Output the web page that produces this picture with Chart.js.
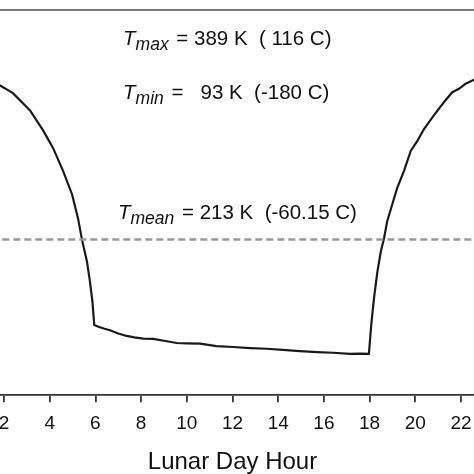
<!DOCTYPE html>
<html lang="en">
<head>
    <meta charset="UTF-8">
    <title>Lunar Surface Temperature</title>
    <script src="https://cdn.jsdelivr.net/npm/chart.js"></script>
    <style>
        html, body {
            margin: 0;
            padding: 0;
            background: #ffffff;
            overflow: hidden;
            width: 474px;
            height: 474px;
        }
        /* the plot is wider than the window, like a cropped figure */
        #chart-box {
            position: absolute;
            left: -60px;
            top: 0;
            width: 600px;
            height: 474px;
        }
    </style>
</head>
<body>
    <div id="chart-box">
        <canvas id="tempChart" width="600" height="474"></canvas>
    </div>

    <script>
        // surface temperature over one lunar day (hour, Kelvin)
        var hours = [0, 0.5, 1.0, 1.4, 1.83, 2.39, 3.14, 3.71, 4.14, 4.58, 4.98, 5.24, 5.41, 5.63, 5.76, 5.87, 5.95,
                     6.13, 6.4, 6.64, 7.0, 7.37, 7.7, 8.1, 8.53, 9.0, 9.56, 10.0, 10.58, 11.3, 12.02, 12.77, 13.5,
                     14.2, 14.95, 15.7, 16.4, 17.14, 17.6, 17.97,
                     18.07, 18.19, 18.34, 18.49, 18.63, 18.77, 18.99, 19.21, 19.51, 19.8, 20.09, 20.38, 20.82,
                     21.25, 21.62, 21.91, 22.2, 22.57, 23.0, 23.5, 24];
        var kelvin = [389, 388, 384, 380, 374, 366, 348, 327, 309, 285, 260, 235, 213, 190, 169, 148, 123.5,
                      121.6, 119.5, 118, 114.5, 112, 110.5, 109.1, 109, 107, 104.6, 104.3, 103.9, 101.4, 100.4, 99.3, 98.6,
                      97.5, 96.2, 95.1, 94.4, 93.3, 93.6, 93.3,
                      123, 151, 179, 200, 214, 232, 249.5, 267, 285, 305.6, 316, 328.5, 343,
                      356.5, 367, 370.6, 375.8, 380, 384, 387, 389];

        // mean temperature line
        var meanHours = [0, 24];
        var meanKelvin = [213, 213];

        // annotation texts
        var annSymbol = ['T', 'T', 'T'];
        var annSub = ['max', 'min', 'mean'];
        var annText = [' = 389 K  ( 116 C)', ' =   93 K  (-180 C)', ' = 213 K  (-60.15 C)'];
        var annHour = [7.21, 7.21, 6.99];
        var annKelvin = [416.7, 360.4, 234.1];

        var xTitle = 'Lunar Day Hour';

        function toPoints(xs, ys) {
            return xs.map(function(x, i) { return { x: x, y: ys[i] }; });
        }

        // top frame line and the T labels
        var extras = {
            id: 'extras',
            afterDraw: function(chart) {
                var ctx = chart.ctx;
                var area = chart.chartArea;
                var xs = chart.scales.x;
                var ys = chart.scales.y;

                ctx.save();
                ctx.beginPath();
                ctx.moveTo(0, area.top);
                ctx.lineTo(chart.width, area.top);
                ctx.lineWidth = 2;
                ctx.strokeStyle = '#777777';
                ctx.stroke();

                ctx.fillStyle = '#111111';
                ctx.textBaseline = 'alphabetic';
                ctx.textAlign = 'left';
                for (var i = 0; i < annText.length; i++) {
                    var px = xs.getPixelForValue(annHour[i]);
                    var py = ys.getPixelForValue(annKelvin[i]);
                    ctx.font = 'italic 20.5px "Liberation Sans", Arial, sans-serif';
                    ctx.fillText(annSymbol[i], px, py);
                    px += ctx.measureText(annSymbol[i]).width;
                    ctx.font = 'italic 17.5px "Liberation Sans", Arial, sans-serif';
                    ctx.fillText(annSub[i], px, py + 5);
                    px += ctx.measureText(annSub[i]).width + 2;
                    ctx.font = '20.5px "Liberation Sans", Arial, sans-serif';
                    ctx.fillText(annText[i], px, py);
                }
                ctx.restore();
            }
        };

        var ctx = document.getElementById('tempChart').getContext('2d');
        var tempChart = new Chart(ctx, {
            type: 'line',
            data: {
                datasets: [{
                    label: 'Mean',
                    data: toPoints(meanHours, meanKelvin),
                    borderColor: '#999999',
                    borderWidth: 2.5,
                    borderDash: [7, 4],
                    pointRadius: 0,
                    fill: false
                }, {
                    label: 'Temperature',
                    data: toPoints(hours, kelvin),
                    borderColor: '#1a1a1a',
                    borderWidth: 2.2,
                    pointRadius: 0,
                    tension: 0,
                    fill: false
                }]
            },
            options: {
                responsive: false,
                animation: false,
                layout: {
                    padding: { left: 18.3, right: 33.3, top: 10, bottom: 0 }
                },
                plugins: {
                    legend: { display: false },
                    tooltip: { enabled: false }
                },
                scales: {
                    x: {
                        type: 'linear',
                        min: 0,
                        max: 24,
                        border: { display: true, color: '#333333', width: 1.8 },
                        grid: {
                            display: true,
                            drawOnChartArea: false,
                            drawTicks: true,
                            tickLength: 7,
                            color: '#333333',
                            lineWidth: 1.8
                        },
                        ticks: {
                            stepSize: 2,
                            padding: 10,
                            color: '#111111',
                            maxRotation: 0,
                            font: { family: '"Liberation Sans", Arial, sans-serif', size: 19 }
                        },
                        title: {
                            display: true,
                            text: xTitle,
                            color: '#111111',
                            padding: { top: 5, bottom: 0 },
                            font: { family: '"Liberation Sans", Arial, sans-serif', size: 24, lineHeight: 1.0 }
                        }
                    },
                    y: {
                        display: false,
                        min: 50,
                        max: 453
                    }
                }
            },
            plugins: [extras]
        });
    </script>
</body>
</html>
